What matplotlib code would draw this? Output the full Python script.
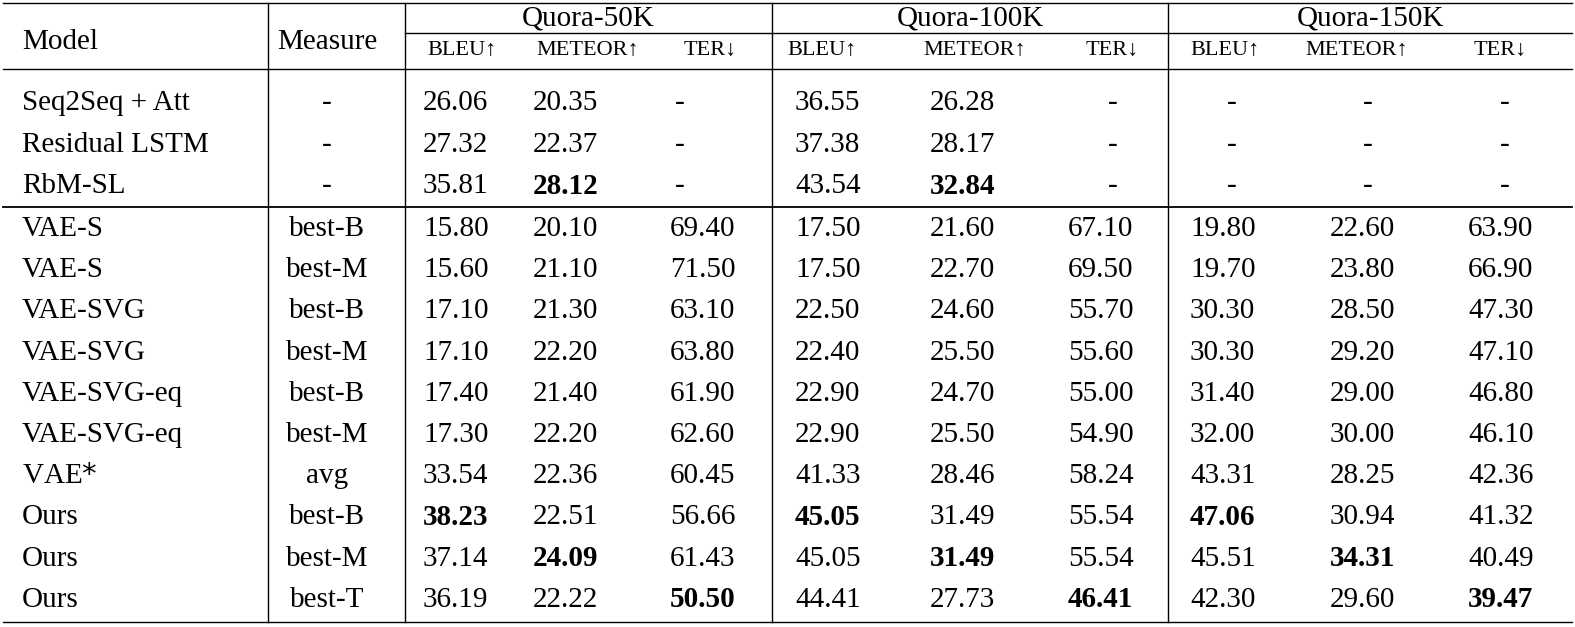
import matplotlib.pyplot as plt

W, H = 1575, 627

models = ['Seq2Seq + Att', 'Residual LSTM', 'RbM-SL',
          'VAE-S', 'VAE-S', 'VAE-SVG', 'VAE-SVG', 'VAE-SVG-eq', 'VAE-SVG-eq',
          'VAE$*$', 'Ours', 'Ours', 'Ours']
measures = ['-', '-', '-', 'best-B', 'best-M', 'best-B', 'best-M', 'best-B', 'best-M',
            'avg', 'best-B', 'best-M', 'best-T']
values = [
    ['26.06', '20.35', '-', '36.55', '26.28', '-', '-', '-', '-'],
    ['27.32', '22.37', '-', '37.38', '28.17', '-', '-', '-', '-'],
    ['35.81', '28.12', '-', '43.54', '32.84', '-', '-', '-', '-'],
    ['15.80', '20.10', '69.40', '17.50', '21.60', '67.10', '19.80', '22.60', '63.90'],
    ['15.60', '21.10', '71.50', '17.50', '22.70', '69.50', '19.70', '23.80', '66.90'],
    ['17.10', '21.30', '63.10', '22.50', '24.60', '55.70', '30.30', '28.50', '47.30'],
    ['17.10', '22.20', '63.80', '22.40', '25.50', '55.60', '30.30', '29.20', '47.10'],
    ['17.40', '21.40', '61.90', '22.90', '24.70', '55.00', '31.40', '29.00', '46.80'],
    ['17.30', '22.20', '62.60', '22.90', '25.50', '54.90', '32.00', '30.00', '46.10'],
    ['33.54', '22.36', '60.45', '41.33', '28.46', '58.24', '43.31', '28.25', '42.36'],
    ['38.23', '22.51', '56.66', '45.05', '31.49', '55.54', '47.06', '30.94', '41.32'],
    ['37.14', '24.09', '61.43', '45.05', '31.49', '55.54', '45.51', '34.31', '40.49'],
    ['36.19', '22.22', '50.50', '44.41', '27.73', '46.41', '42.30', '29.60', '39.47'],
]
bold = {(2, 1), (2, 4), (10, 0), (10, 3), (10, 6), (11, 1), (11, 4), (11, 7),
        (12, 2), (12, 5), (12, 8)}
groups = ['Quora-50K', 'Quora-100K', 'Quora-150K']
subheads = ['BLEU↑', 'METEOR↑', 'TER↓'] * 3

fig = plt.figure(figsize=(W / 100, H / 100), dpi=100)
plt.rcParams['font.family'] = ['Liberation Serif', 'DejaVu Serif']

def T(x, y, s, **kw):
    kw.setdefault('va', 'center')
    kw.setdefault('fontsize', 21)
    fig.text(x / W, 1 - y / H, s, **kw)

def hline(y, x0=3, x1=1572, lw=1.0):
    fig.add_artist(plt.Line2D([x0 / W, x1 / W], [1 - y / H, 1 - y / H], color='black', lw=lw))

def vline(x, y0=3, y1=622):
    fig.add_artist(plt.Line2D([x / W, x / W], [1 - y0 / H, 1 - y1 / H], color='black', lw=1.0))

hline(3); hline(33, 405); hline(69); hline(207, lw=1.3); hline(622)
for x in (268, 405, 772, 1168):
    vline(x)

col_left = [423, 533, 670, 795, 930, 1068, 1190, 1330, 1468]
dash_x = [680, 552, 680, 818, 950, 1113, 1232, 1368, 1505]
grp_x = [588, 970, 1370]
sub_x = [462, 588, 710, 822, 975, 1112, 1225, 1357, 1500]

T(22, 42, 'Model')
T(327, 42, 'Measure', ha='center')
for g, x in zip(groups, grp_x):
    T(x, 18, g, ha='center')
for s, x in zip(subheads, sub_x):
    T(x, 51, s, ha='center', fontsize=16)

ys = [103, 145, 186] + [229 + 41.2 * k for k in range(10)]
for i, y in enumerate(ys):
    T(22, y, models[i])
    T(327, y, measures[i], ha='center')
    for j, v in enumerate(values[i]):
        w = 'bold' if (i, j) in bold else 'normal'
        if v == '-':
            T(dash_x[j], y, v, ha='center')
        else:
            T(col_left[j], y, v, ha='left', fontweight=w)

fig.savefig('out.png', dpi=100, facecolor='white')
